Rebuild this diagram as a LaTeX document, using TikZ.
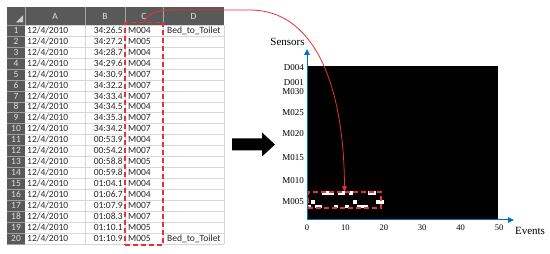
\documentclass[tikz,border=0pt]{standalone}
\usepackage{fontspec}
\setmainfont{Liberation Serif}
\newfontfamily\xlsfont{Carlito}
\usetikzlibrary{arrows.meta,positioning}

\definecolor{xlshead}{RGB}{89,89,89}
\definecolor{xlsgrid}{RGB}{214,214,214}
\definecolor{xlsnum}{RGB}{222,222,222}
\definecolor{hlred}{RGB}{232,48,58}
\definecolor{axisblue}{RGB}{0,112,192}

\begin{document}
\begin{tikzpicture}[x=1pt, y=-1pt,
  cell/.style={inner sep=0pt, text height=6.5pt, text depth=1pt, text=black!85,
    font=\xlsfont\fontsize{9.5}{10}\selectfont},
  hdr/.style={cell, text=xlsnum},
  hlbox/.style={draw=hlred, dash pattern=on 5pt off 3pt, line width=1.3pt, inner sep=0pt},
  ylab/.style={anchor=east, inner sep=0pt, font=\fontsize{9}{10}\selectfont},
  xlab/.style={inner sep=0pt, font=\fontsize{8.5}{10}\selectfont},
  axislabel/.style={inner sep=0pt, font=\fontsize{11}{12}\selectfont},
  axis/.style={draw=axisblue, line width=1pt, -{Triangle[length=6pt,width=5.5pt]}}]
\useasboundingbox (0,0) rectangle (550,254);

% spreadsheet
\fill[xlshead] (7,7.5) rectangle (224,25.2);
\fill[xlshead] (7,25.2) rectangle (25,243.8);
\fill[white!80!black] (16,22.5) -- (23,22.5) -- (23,15.5) -- cycle;
\foreach \x in {25,85,125,163}
  \draw[gray!70] (\x,7.5) -- (\x,25.2);
\foreach \c/\x in {A/55,B/105,C/144,D/193.5}
  \node[hdr] (h\c) at (\x,16.3) {\c};
\foreach \i in {0,...,20} {
  \draw[xlsgrid] (25,{25.2+10.93*\i}) -- (224,{25.2+10.93*\i});
  \draw[gray!75] (7,{25.2+10.93*\i}) -- (25,{25.2+10.93*\i});
}
\foreach \x in {85,125,163,224}
  \draw[xlsgrid] (\x,25.2) -- (\x,243.8);

\foreach \t/\s [count=\i] in {34:26.5/4,34:27.2/5,34:28.7/4,34:29.6/4,34:30.9/7,
    34:32.2/7,34:33.4/7,34:34.5/4,34:35.3/7,34:34.2/7,00:53.9/4,00:54.2/7,
    00:58.8/5,00:59.8/4,01:04.1/4,01:06.7/4,01:07.9/7,01:08.3/7,01:10.1/5,01:10.9/5} {
  \pgfmathsetmacro\yy{30.7+10.93*(\i-1)}
  \node[hdr] (n\i) at (16,\yy) {\i};
  \node[cell, anchor=west] (a\i) at (27,\yy) {12/4/2010};
  \node[cell, anchor=east] (b\i) at (123,\yy) {\t};
  \node[cell, anchor=west] (c\i) at (128,\yy) {M00\s};
}
\node[cell, anchor=west] (d1) at (167,30.7) {Bed\_to\_Toilet};
\node[cell, anchor=west] (d20) at (167,238.4) {Bed\_to\_Toilet};

\node[hlbox, minimum width=38pt, minimum height=222.5pt] (colbox) at (144,133.75) {};

% arrow between the two parts
\fill[black] (232,138.5) -- (262,138.5) -- (262,132.5) -- (275,144.5)
  -- (262,156.5) -- (262,150.5) -- (232,150.5) -- cycle;

% event matrix
\fill[black] (308,66) rectangle (498,219.5);
\foreach \s [count=\i from 0] in {4,5,4,4,7,7,7,4,7,7,4,7,5,4,4,4,7,7,5,5}
  \fill[white] ({307+3.84*\i},{224-4.4*\s-1.8}) rectangle ++(3.84,3.6);
\node[hlbox, minimum width=73pt, minimum height=16pt] (hilite) at (344.5,200) {};

\coordinate (origin) at (307,220);
\coordinate (ytip) at (307,49);
\coordinate (xtip) at (514,220);
\draw[axis] (origin) -- (ytip);
\draw[axis] (origin) -- (xtip);
\node[axislabel] (sensors) at (287.5,42) {Sensors};
\node[axislabel] (events) at (530,231) {Events};

\foreach \v in {0,10,...,50}
  \node[xlab] (t\v) at ({307+3.84*\v},228) {\v};
\foreach \lab/\yy in {D004/68,D001/82.5,M030/92,M025/113,M020/134,M015/158,M010/181,M005/202}
  \node[ylab] (s\lab) at (304,\yy) {\lab};

% link from the sensor column to the matrix
\draw[hlred, line width=0.8pt, -{Triangle[length=5pt,width=5pt]}] (colbox.north)
  .. controls (152,8) and (165,10) .. (200,10) -- (250,10)
  .. controls (312,10) and (344,80) .. (hilite.north);
\end{tikzpicture}
\end{document}
